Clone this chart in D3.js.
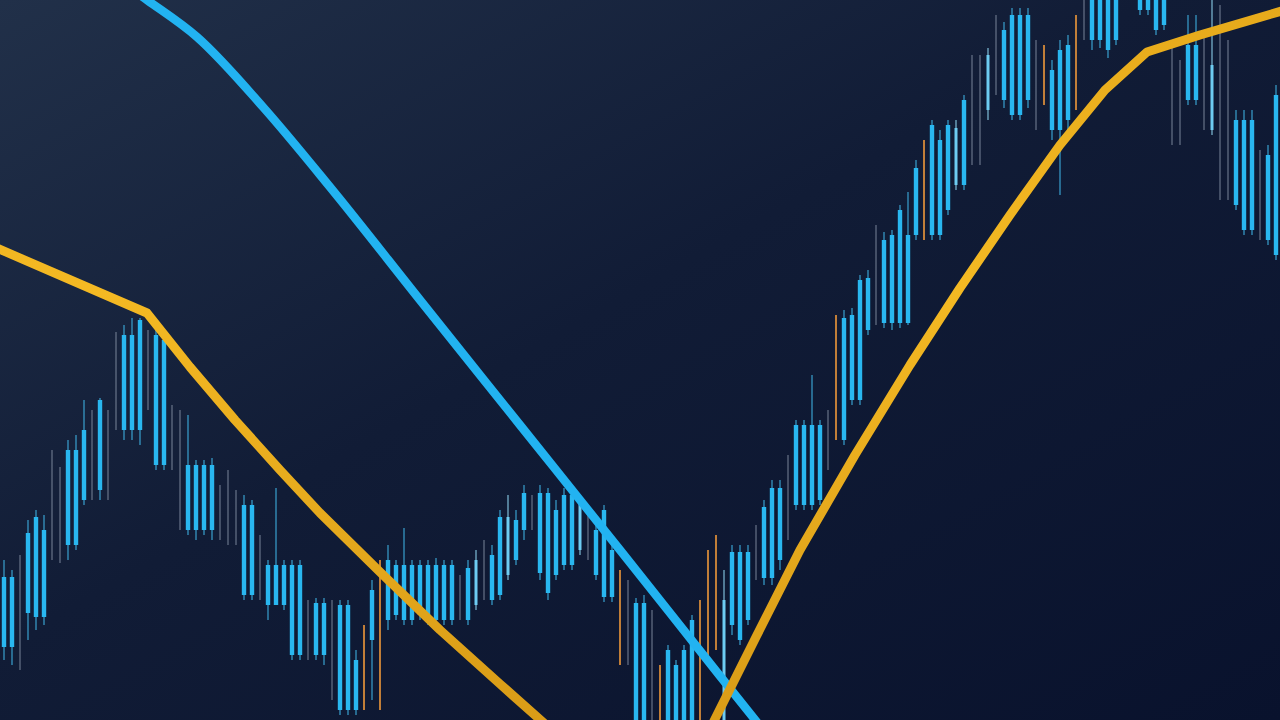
<!DOCTYPE html>
<html>
<head>
<meta charset="utf-8">
<script src="https://cdn.jsdelivr.net/npm/d3@7/dist/d3.min.js"></script>
<style>
  html, body { margin: 0; padding: 0; background: #0d1731; overflow: hidden; }
  svg { display: block; }
</style>
</head>
<body>
<svg id="chart" width="1280" height="720"></svg>
<script>
// ---- data (price units; higher = up) ----
// candle kinds: c = cyan body, l = light cyan body, g = grey wick only, o = orange wick only
const candleKind = [
  "c","c","g","c","c","c","g","g","c","c",
  "c","g","c","g","g","c","c","c","g","c",
  "c","g","g","c","c","c","c","g","g","g",
  "c","c","g","c","c","c","c","c","g","c",
  "c","g","c","c","c","o","c","o","c","c",
  "c","c","c","c","c","c","c","g","c","l",
  "g","c","c","l","c","c","g","c","c","c",
  "c","c","l","g","c","c","c","o","g","c",
  "c","g","o","c","c","c","c","o","o","o",
  "l","c","c","c","g","c","c","c","g","c",
  "c","c","c","g","o","c","c","c","c","g",
  "c","c","c","c","c","o","c","c","c","l",
  "c","g","g","l","g","c","c","c","c","g",
  "o","c","c","c","o","g","c","c","c","c",
  "c","c","c","c","c","c","g","g","c","c",
  "g","l","g","g","c","c","c","g","c","c"
];
// wick high / low
const candleHigh = [
  160,150,165,200,210,205,270,253,280,285,
  320,310,322,310,388,395,402,402,390,390,
  385,315,310,305,260,260,262,235,250,230,
  225,220,185,160,232,160,160,160,120,122,
  122,120,120,120,70,95,140,160,175,160,
  192,160,160,160,162,160,160,145,160,170,
  180,175,210,225,210,235,225,235,232,220,
  232,230,225,215,200,215,180,150,140,122,
  125,110,55,75,60,75,105,120,170,185,
  150,175,175,175,195,220,240,240,265,300,
  300,345,300,310,405,410,412,445,450,495,
  488,490,515,528,560,580,600,590,600,600,
  625,665,665,672,705,698,712,712,712,680,
  675,660,680,685,705,730,750,745,740,740,
  790,780,750,750,750,750,680,660,705,705,
  690,720,715,680,610,610,610,570,575,635
];
const candleLow = [
  60,55,50,80,90,95,160,157,160,170,
  215,220,220,220,290,280,280,275,310,250,
  250,250,190,185,180,185,180,180,175,175,
  120,120,120,100,115,110,60,60,60,60,
  55,20,5,5,5,10,20,10,90,100,
  95,95,100,95,95,95,95,100,95,110,
  120,115,120,140,155,180,190,140,120,140,
  150,150,165,160,140,118,118,55,55,-5,
  -5,-5,-5,-5,-5,-5,-5,-5,65,70,
  -5,85,75,95,140,135,135,150,180,210,
  210,210,215,250,280,275,315,315,385,395,
  392,390,392,395,480,480,480,480,505,530,
  530,555,555,600,625,612,600,600,612,590,
  615,580,525,590,610,680,670,672,662,675,
  725,722,705,705,685,690,575,575,615,615,
  590,585,520,520,510,485,485,480,475,460
];
// body top / bottom (null for wick-only kinds)
const bodyTop = [
  143,143,null,187,203,190,null,null,270,270,
  290,null,320,null,null,385,385,400,null,385,
  380,null,null,255,255,255,255,null,null,null,
  215,215,null,155,155,155,155,155,null,117,
  117,null,115,115,60,null,130,null,160,155,
  155,155,155,155,155,155,155,null,152,160,
  null,165,203,203,200,227,null,227,227,210,
  225,225,220,null,190,210,170,null,null,117,
  117,null,null,70,55,70,100,null,null,null,
  120,168,168,168,null,213,232,232,null,295,
  295,295,295,null,null,402,405,440,442,null,
  480,485,510,485,552,null,595,580,595,592,
  620,null,null,665,null,690,705,705,705,null,
  null,650,670,675,null,null,740,730,730,730,
  780,770,740,740,740,740,null,null,675,675,
  null,655,null,null,600,600,600,null,565,625
];
const bodyBottom = [
  73,73,null,107,103,103,null,null,175,175,
  220,null,230,null,null,290,290,290,null,255,
  255,null,null,190,190,190,190,null,null,null,
  125,125,null,115,115,115,65,65,null,65,
  65,null,10,10,10,null,80,null,100,105,
  100,100,105,100,100,100,100,null,100,115,
  null,120,125,145,160,190,null,147,127,145,
  155,155,170,null,145,123,123,null,null,0,
  0,null,null,0,0,0,0,null,null,null,
  0,95,80,100,null,142,142,160,null,215,
  215,215,220,null,null,280,320,320,390,null,
  397,397,397,397,485,null,485,485,510,535,
  535,null,null,610,null,620,605,605,620,null,
  null,590,590,600,null,null,680,680,670,680,
  730,725,710,710,690,695,null,null,620,620,
  null,590,null,null,515,490,490,null,480,465
];

// moving averages: candle index position and value
const slowMaIndex = [12, 17.875, 24.125, 32.375, 40.75, 52, 64.5, 77, 89.5, 97];
const slowMaValue = [753, 720, 683, 613, 533, 420, 295, 170, 44, -31];
const fastMaIndex = [-1.5, 17.875, 23.25, 28.875, 34.5, 39.5, 47, 54.5, 62, 67.625, 82,
  88.5, 94, 99.5, 106.375, 113.25, 119.5, 125.75, 132, 137.625, 142.875, 149.5, 160.125];
const fastMaValue = [474, 407, 353, 300, 250, 207, 148, 90, 36, -4, -110,
  -5, 83, 170, 265, 355, 432, 505, 575, 630, 668, 685, 710];

// ---- drawing ----
const W = 1280, H = 720;
const svg = d3.select("#chart");
const defs = svg.append("defs");

const bg = defs.append("linearGradient").attr("id", "bg")
  .attr("x1", "0").attr("y1", "0").attr("x2", "1").attr("y2", "1");
bg.append("stop").attr("offset", "0%").attr("stop-color", "#213049");
bg.append("stop").attr("offset", "45%").attr("stop-color", "#111c36");
bg.append("stop").attr("offset", "100%").attr("stop-color", "#09122d");

const gold = defs.append("linearGradient").attr("id", "gold")
  .attr("gradientUnits", "userSpaceOnUse")
  .attr("x1", 0).attr("y1", 0).attr("x2", 0).attr("y2", H);
gold.append("stop").attr("offset", "0%").attr("stop-color", "#e6aa1b");
gold.append("stop").attr("offset", "40%").attr("stop-color", "#f4b923");
gold.append("stop").attr("offset", "100%").attr("stop-color", "#d99c17");

defs.append("clipPath").attr("id", "clip")
  .append("rect").attr("width", W).attr("height", H);

svg.append("rect").attr("width", W).attr("height", H).attr("fill", "url(#bg)");

const n = candleKind.length;
const x = d3.scaleLinear().domain([0, n - 1]).range([4, 1276]);
const y = d3.scaleLinear().domain([0, 720]).range([H, 0]);

const g = svg.append("g").attr("clip-path", "url(#clip)");

const candles = d3.range(n).map(i => ({
  i, kind: candleKind[i], hi: candleHigh[i], lo: candleLow[i],
  top: bodyTop[i], bot: bodyBottom[i]
}));

const wickColor = { c: "#3fb4e6", l: "#8fd4f0", g: "#8d9aab", o: "#e0903a" };
const wickOpacity = { c: 0.75, l: 0.75, g: 0.6, o: 0.85 };
const bodyColor = { c: "#29b7f0", l: "#6dccf2" };

g.append("g").selectAll("line").data(candles).join("line")
  .attr("x1", d => x(d.i)).attr("x2", d => x(d.i))
  .attr("y1", d => y(d.hi)).attr("y2", d => y(d.lo))
  .attr("stroke", d => wickColor[d.kind])
  .attr("stroke-opacity", d => wickOpacity[d.kind])
  .attr("stroke-width", d => d.kind === "o" ? 2 : 1.4);

g.append("g").selectAll("rect").data(candles.filter(d => d.top !== null)).join("rect")
  .attr("x", d => x(d.i) - (d.kind === "l" ? 1.5 : 2.2))
  .attr("width", d => d.kind === "l" ? 3 : 4.4)
  .attr("y", d => y(d.top))
  .attr("height", d => Math.max(1, y(d.bot) - y(d.top)))
  .attr("fill", d => bodyColor[d.kind]);

const slowLine = d3.line()
  .x((d, k) => x(slowMaIndex[k])).y(d => y(d))
  .curve(d3.curveMonotoneX);
g.append("path").datum(slowMaValue)
  .attr("d", slowLine)
  .attr("fill", "none").attr("stroke", "#22b3f1")
  .attr("stroke-width", 8.5).attr("stroke-linecap", "round").attr("stroke-linejoin", "round");

const fastLine = d3.line()
  .x((d, k) => x(fastMaIndex[k])).y(d => y(d))
  .curve(d3.curveLinear);
g.append("path").datum(fastMaValue)
  .attr("d", fastLine)
  .attr("fill", "none").attr("stroke", "url(#gold)")
  .attr("stroke-width", 9).attr("stroke-linecap", "round").attr("stroke-linejoin", "round");
</script>
</body>
</html>
